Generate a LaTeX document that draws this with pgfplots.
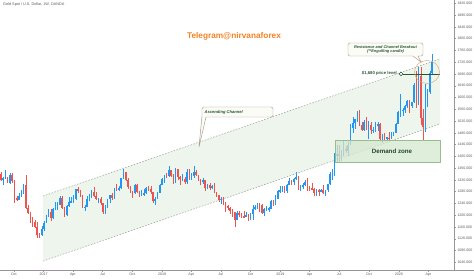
\documentclass[border=0pt]{standalone}
\usepackage{fontspec}
\setmainfont{Liberation Sans}
\usepackage{pgfplots}
\pgfplotsset{compat=1.18}
\usepackage{pgfplotstable}
\definecolor{candup}{RGB}{33,150,243}
\definecolor{canddn}{RGB}{239,83,80}
\definecolor{axisgrey}{RGB}{150,150,150}
\definecolor{labelgrey}{RGB}{90,90,90}
\definecolor{chanfill}{RGB}{237,245,236}
\definecolor{chanline}{RGB}{150,160,150}
\definecolor{demfill}{RGB}{212,231,207}
\definecolor{demline}{RGB}{150,190,140}
\definecolor{tgorange}{RGB}{240,130,35}
\definecolor{annogreen}{RGB}{40,85,50}
\definecolor{callfill}{RGB}{252,252,246}
\definecolor{callborder}{RGB}{165,155,135}
\definecolor{ellcolor}{RGB}{220,175,130}

\pgfplotstableread{
w o h l c
-19 1340 1348 1316 1321
-18 1321 1330 1302 1327
-17 1327 1352 1323 1328
-16 1328 1330 1310 1310
-15 1310 1343 1307 1338
-14 1338 1343 1308 1316
-13 1316 1318 1241 1257
-12 1257 1266 1248 1251
-11 1251 1274 1251 1266
-10 1266 1285 1261 1276
-9 1276 1307 1271 1304
-8 1304 1338 1223 1226
-7 1226 1236 1204 1208
-6 1208 1212 1172 1179
-5 1179 1195 1161 1177
-4 1177 1182 1157 1160
-3 1160 1176 1122 1134
-2 1134 1140 1124 1133
-1 1133 1163 1128 1152
0 1152 1181 1147 1173
1 1173 1199 1172 1197
2 1197 1220 1195 1210
3 1210 1220 1180 1191
4 1191 1226 1186 1220
5 1220 1245 1216 1234
6 1234 1245 1216 1236
7 1236 1264 1233 1257
8 1257 1264 1223 1226
9 1226 1228 1195 1202
10 1202 1233 1198 1230
11 1230 1261 1229 1244
12 1244 1262 1240 1249
13 1249 1270 1240 1254
14 1254 1289 1250 1288
15 1288 1296 1275 1284
16 1284 1287 1262 1268
17 1268 1269 1226 1228
18 1228 1236 1214 1228
19 1228 1264 1227 1254
20 1254 1271 1247 1267
21 1267 1284 1259 1280
22 1280 1296 1265 1266
23 1266 1279 1250 1254
24 1254 1260 1241 1256
25 1256 1261 1236 1242
26 1242 1243 1204 1212
27 1212 1233 1205 1228
28 1228 1256 1225 1254
29 1254 1270 1243 1269
30 1269 1274 1253 1258
31 1258 1292 1256 1288
32 1288 1306 1281 1284
33 1284 1299 1282 1291
34 1291 1326 1289 1325
35 1325 1357 1322 1346
36 1346 1348 1315 1320
37 1320 1326 1288 1297
38 1297 1298 1276 1280
39 1280 1281 1260 1274
40 1274 1306 1272 1304
41 1304 1306 1276 1280
42 1280 1282 1262 1266
43 1266 1284 1264 1270
44 1270 1290 1266 1275
45 1275 1297 1272 1294
46 1294 1299 1281 1288
47 1288 1298 1272 1280
48 1280 1280 1243 1248
49 1248 1261 1236 1256
50 1256 1278 1254 1276
51 1276 1305 1275 1303
52 1303 1326 1302 1322
53 1322 1338 1310 1338
54 1338 1344 1326 1332
55 1332 1366 1330 1352
56 1352 1354 1331 1333
57 1333 1340 1307 1315
58 1315 1362 1310 1356
59 1356 1357 1321 1330
60 1330 1333 1303 1323
61 1323 1341 1316 1323
62 1323 1329 1307 1313
63 1313 1356 1307 1347
64 1347 1356 1321 1323
65 1323 1345 1321 1332
66 1332 1366 1327 1346
67 1346 1355 1333 1336
68 1336 1337 1315 1322
69 1322 1324 1302 1314
70 1314 1326 1305 1318
71 1318 1318 1282 1291
72 1291 1307 1289 1302
73 1302 1308 1287 1294
74 1294 1303 1290 1298
75 1298 1309 1276 1278
76 1278 1280 1261 1270
77 1270 1270 1246 1252
78 1252 1263 1238 1255
79 1255 1262 1236 1241
80 1241 1246 1211 1231
81 1231 1236 1219 1223
82 1223 1227 1204 1214
83 1214 1220 1194 1212
84 1212 1212 1160 1184
85 1184 1214 1183 1206
86 1206 1215 1193 1201
87 1201 1206 1190 1196
88 1196 1214 1192 1194
89 1194 1211 1193 1201
90 1201 1205 1180 1192
91 1192 1208 1183 1203
92 1203 1233 1185 1222
93 1222 1233 1219 1227
94 1227 1243 1221 1235
95 1235 1243 1211 1233
96 1233 1237 1205 1209
97 1209 1226 1196 1222
98 1222 1230 1215 1222
99 1222 1229 1211 1222
100 1222 1250 1221 1248
101 1248 1251 1232 1238
102 1238 1268 1234 1256
103 1256 1284 1256 1281
104 1281 1298 1276 1286
105 1286 1298 1280 1291
106 1291 1298 1276 1282
107 1282 1305 1276 1303
108 1303 1326 1301 1317
109 1317 1318 1302 1314
110 1314 1326 1301 1322
111 1322 1347 1320 1329
112 1329 1334 1285 1294
113 1294 1301 1281 1298
114 1298 1311 1290 1303
115 1303 1320 1298 1313
116 1313 1325 1281 1292
117 1292 1298 1281 1291
118 1291 1310 1286 1290
119 1290 1291 1266 1276
120 1276 1289 1266 1286
121 1286 1289 1266 1280
122 1280 1288 1278 1285
123 1285 1304 1275 1277
124 1277 1287 1266 1284
125 1284 1306 1279 1305
126 1305 1348 1304 1341
127 1341 1358 1321 1341
128 1341 1411 1334 1400
129 1400 1439 1382 1409
130 1409 1438 1381 1400
131 1400 1421 1385 1415
132 1415 1453 1400 1426
133 1426 1434 1412 1419
134 1419 1450 1400 1440
135 1440 1510 1437 1497
136 1497 1535 1480 1513
137 1513 1527 1492 1527
138 1527 1555 1518 1529
139 1529 1557 1506 1507
140 1507 1518 1485 1488
141 1488 1524 1485 1517
142 1517 1535 1488 1497
143 1497 1519 1459 1505
144 1505 1517 1475 1489
145 1489 1500 1478 1490
146 1490 1518 1481 1505
147 1505 1517 1486 1509
148 1509 1513 1456 1459
149 1459 1475 1446 1468
150 1468 1478 1456 1462
151 1462 1466 1452 1464
152 1464 1484 1454 1460
153 1460 1482 1458 1476
154 1476 1481 1470 1479
155 1479 1514 1478 1511
156 1511 1553 1510 1552
157 1552 1611 1535 1557
158 1557 1563 1536 1557
159 1557 1574 1547 1571
160 1571 1591 1563 1589
161 1589 1591 1547 1570
162 1570 1585 1563 1584
163 1584 1649 1580 1643
164 1643 1689 1563 1585
165 1585 1703 1576 1674
166 1674 1703 1505 1530
167 1530 1560 1451 1498
168 1498 1645 1484 1617
169 1617 1629 1567 1620
170 1620 1690 1612 1683
171 1683 1747 1681 1722
}\gold

\pgfplotsset{
  wick/.style={draw=none, mark=none, forget plot,
    error bars/y dir=both, error bars/y explicit, error bars/error mark=none,
    error bars/error bar style={line width=0.35bp, draw=#1}},
  body/.style={draw=none, mark=none, forget plot,
    error bars/y dir=both, error bars/y explicit, error bars/error mark=none,
    error bars/error bar style={line width=1.5bp, draw=#1}},
}

\begin{document}
\begin{tikzpicture}
\begin{axis}[
  at={(0bp,9bp)}, anchor=south west,
  scale only axis, width=454bp, height=270bp,
  xmin=-19.38, xmax=180.6, ymin=1013.8, ymax=1931.2,
  axis x line*=bottom, axis y line*=right,
  axis line style={draw=axisgrey, line width=0.5bp},
  tick style={draw=axisgrey, line width=0.4bp},
  major tick length=1.8bp, tick align=outside,
  xtick={-13.29,-0.14,12.71,25.71,38.86,52,64.86,77.86,91,104.14,117,130,143.14,156.29,169.29},
  xticklabels={Oct,2017,Apr,Jul,Oct,2018,Apr,Jul,Oct,2019,Apr,Jul,Oct,2020,Apr},
  ytick={1040,1080,...,1920},
  yticklabel style={font=\fontsize{3.6}{4}\selectfont, text=labelgrey, inner sep=1.5bp},
  xticklabel style={font=\fontsize{3.6}{4}\selectfont, text=labelgrey, inner sep=1.2bp},
  /pgf/number format/.cd, fixed, fixed zerofill, precision=3, 1000 sep={}, assume math mode=true,
]
% channel fill
\addplot[draw=none, fill=chanfill, forget plot] coordinates {(-0.44,1265) (174.45,1731) (174.45,1510) (-0.44,1044)} -- cycle;
% candles
\addplot[restrict expr to domain={\thisrow{c}-\thisrow{o}}{0:3000}, wick=candup]
  table[x=w, y=c, y error plus expr=\thisrow{h}-\thisrow{c}, y error minus expr=\thisrow{c}-\thisrow{l}]{\gold};
\addplot[restrict expr to domain={\thisrow{c}-\thisrow{o}}{-3000:-0.01}, wick=canddn]
  table[x=w, y=c, y error plus expr=\thisrow{h}-\thisrow{c}, y error minus expr=\thisrow{c}-\thisrow{l}]{\gold};
\addplot[restrict expr to domain={\thisrow{c}-\thisrow{o}}{0:3000}, body=candup]
  table[x=w, y expr=(\thisrow{o}+\thisrow{c})/2, y error expr={max(abs(\thisrow{c}-\thisrow{o})/2,1.2)}]{\gold};
\addplot[restrict expr to domain={\thisrow{c}-\thisrow{o}}{-3000:-0.01}, body=canddn]
  table[x=w, y expr=(\thisrow{o}+\thisrow{c})/2, y error expr={max(abs(\thisrow{c}-\thisrow{o})/2,1.2)}]{\gold};
% channel lines
\addplot[draw=chanline, line width=0.5bp, dash pattern=on 1.5bp off 1.5bp, forget plot] coordinates {(-0.44,1265) (174.45,1731)};
\addplot[draw=chanline, line width=0.5bp, dash pattern=on 1.5bp off 1.5bp, forget plot] coordinates {(-0.44,1044) (174.45,1510)};
% demand zone
\addplot[fill=demfill, fill opacity=0.75, draw=demline, line width=0.5bp, forget plot] coordinates {(128.19,1381) (174.45,1381) (174.45,1455) (128.19,1455)} -- cycle;
% 1680 level
\addplot[draw=annogreen, line width=0.6bp, forget plot] coordinates {(158.2,1680) (174.45,1680)};
\end{axis}
\begin{scope}[x=1bp, y=-1bp, shift={(0bp,279bp)}]
\draw[axisgrey, line width=0.5bp] (454,270) -- (474,270);
\node[anchor=west, font=\fontsize{3.8}{4}\selectfont, text=labelgrey, inner sep=0] at (3,5) {Gold Spot / U.S. Dollar, 1W, OANDA};
\node[font=\bfseries\fontsize{8.3}{9}\selectfont, text=tgorange, inner sep=0] at (234,36) {Telegram@nirvanaforex};
% ascending channel callout
\filldraw[fill=callfill, draw=callborder, line width=0.45bp] (199,147) -- (202,116) [rounded corners=1.5bp] -- (202,107) -- (273,107) -- (273,117) [sharp corners] -- (206,117) -- cycle;
\node[anchor=west, font=\bfseries\itshape\fontsize{4.1}{5}\selectfont, text=annogreen, inner sep=0] at (204.5,112) {Ascending Channel};
% resistance callout
\filldraw[fill=callfill, draw=callborder, line width=0.45bp] (421,62) -- (418,56) [rounded corners=1.5bp] -- (423,56) -- (423,43) -- (348,43) -- (348,56) [sharp corners] -- (413,56) -- cycle;
\node[align=center, font=\bfseries\itshape\fontsize{3.9}{4.4}\selectfont, text=annogreen, inner sep=0] at (385.5,49.5) {Resistance and Channel Breakout\\(**Engulfing candle)};
\draw[ellcolor, line width=0.5bp] (427,72) ellipse [x radius=12.5bp, y radius=11.5bp];
% 1680 label
\node[anchor=east, font=\bfseries\fontsize{4.25}{5}\selectfont, text=annogreen, inner sep=0] at (397,73.5) {\$1,680 price level};
\filldraw[fill=white, draw=annogreen, line width=0.5bp] (401,73.9) circle [radius=1.8bp];
% demand zone label
\node[font=\bfseries\fontsize{6.2}{7}\selectfont, text=annogreen!85!black, inner sep=0] at (392,151) {Demand zone};
\end{scope}
\pgfresetboundingbox
\path[use as bounding box] (0,0) rectangle (474bp,279bp);
\end{tikzpicture}
\end{document}
